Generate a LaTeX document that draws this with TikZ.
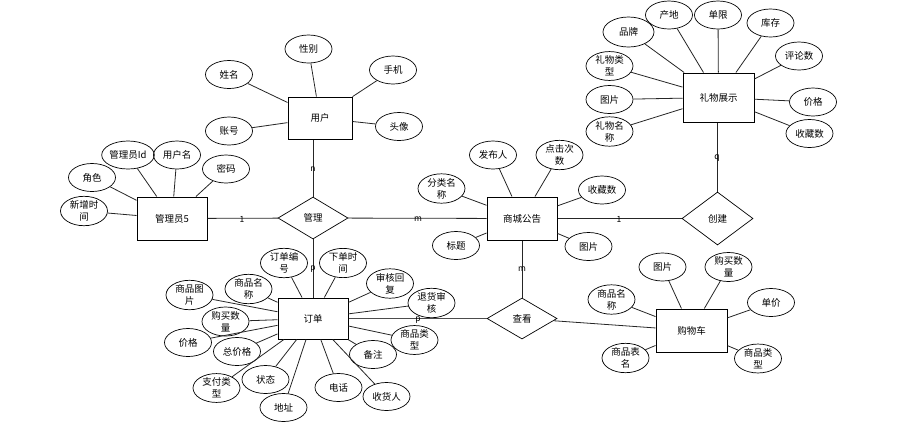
\documentclass[tikz,border=0pt]{standalone}
\usepackage{fontspec}
\setmainfont{Noto Sans CJK SC}
\usetikzlibrary{shapes.geometric}
\begin{document}
\begin{tikzpicture}[x=1pt,y=-1pt,
  every node/.style={font=\fontsize{9.5}{12}\selectfont, text=black},
  ent/.style={draw, rectangle, line width=1pt, minimum width=70pt, minimum height=43pt, inner sep=0pt},
  attr/.style={draw, ellipse, line width=0.7pt, minimum width=47pt, minimum height=28pt, inner sep=0pt, align=center},
  rel/.style={draw, diamond, line width=0.7pt, minimum width=70pt, minimum height=42pt, inner sep=0pt},
  card/.style={font=\fontsize{8.5}{9}\selectfont, inner sep=0pt},
  con/.style={line width=0.8pt, draw=black!85}]
\useasboundingbox (0,0) rectangle (910,424);
% entities
\node[ent, minimum width=64pt, minimum height=42pt] (yh) at (320,118) {用户};
\node[ent] (gly) at (172,218.5) {管理员5};
\node[ent] (gg) at (522,218.5) {商城公告};
\node[ent, minimum width=71pt, minimum height=49pt] (lw) at (718.5,97.5) {礼物展示};
\node[ent, minimum height=41pt] (dd) at (313,318.5) {订单};
\node[ent, minimum width=71pt] (gwc) at (691.5,330.5) {购物车};
% relations
\node[rel] (gl) at (313,218) {管理};
\node[rel, minimum width=71pt, minimum height=53pt] (cj) at (717.5,218.5) {创建};
\node[rel, minimum height=41pt] (ck) at (522,318.5) {查看};
% user attributes
\node[attr] (xb) at (308.5,49) {性别};
\node[attr] (xm) at (229,74.5) {姓名};
\node[attr] (sj) at (393,70) {手机};
\node[attr] (zh) at (229,131) {账号};
\node[attr] (tx) at (399,126.5) {头像};
% admin attributes
\node[attr] (gid) at (128,155) {管理员Id};
\node[attr] (yhm) at (177,155) {用户名};
\node[attr] (mm) at (226,169) {密码};
\node[attr] (js) at (92,177.5) {角色};
\node[attr] (xzsj) at (84,211) {新增时\\间};
% notice attributes
\node[attr] (flmc) at (441.5,188.5) {分类名\\称};
\node[attr] (fbr) at (493,155) {发布人};
\node[attr] (djcs) at (559.5,155) {点击次\\数};
\node[attr] (ggsc) at (602,190) {收藏数};
\node[attr] (bt) at (456,245.5) {标题};
\node[attr] (ggtp) at (588.5,246.5) {图片};
% gift attributes
\node[attr, minimum width=51pt, minimum height=30pt] (pp) at (628.5,32) {品牌};
\node[attr] (cd) at (669,15) {产地};
\node[attr] (dx) at (718,15) {单限};
\node[attr] (kc) at (770.5,23) {库存};
\node[attr] (pls) at (799,56) {评论数};
\node[attr] (lwlx) at (609.5,66) {礼物类\\型};
\node[attr] (lwtp) at (609.5,99.5) {图片};
\node[attr] (lwmc) at (609.5,131.5) {礼物名\\称};
\node[attr] (jg) at (813,102) {价格};
\node[attr] (lwsc) at (809.5,133.5) {收藏数};
% order attributes
\node[attr] (ddbh) at (284,263) {订单编\\号};
\node[attr] (xdsj) at (343,263) {下单时\\间};
\node[attr] (spmc) at (248.5,289) {商品名\\称};
\node[attr] (sptp) at (189.5,295) {商品图\\片};
\node[attr] (shhf) at (390,283.5) {审核回\\复};
\node[attr] (thsh) at (431.5,303) {退货审\\核};
\node[attr] (gmsl) at (225.5,321.5) {购买数\\量};
\node[attr] (ddjg) at (188,342.5) {价格};
\node[attr] (zjg) at (237,351.5) {总价格};
\node[attr] (splx) at (414.5,340) {商品类\\型};
\node[attr] (bz) at (373,354.5) {备注};
\node[attr] (zflx) at (216.5,388) {支付类\\型};
\node[attr] (zt) at (265.5,379.5) {状态};
\node[attr] (dz) at (283.5,407.5) {地址};
\node[attr] (dh) at (338.5,387.5) {电话};
\node[attr] (shr) at (386.5,396.5) {收货人};
% cart attributes
\node[attr] (cttp) at (662.5,267) {图片};
\node[attr] (ctsl) at (728.5,267) {购买数\\量};
\node[attr] (ctdj) at (771,302.5) {单价};
\node[attr] (ctmc) at (611.5,299.5) {商品名\\称};
\node[attr] (ctbm) at (625.5,358) {商品表\\名};
\node[attr] (ctlx) at (758,358.5) {商品类\\型};
% connectors: relations
\draw[con] (gl.north) -- (gl.north |- yh.south);
\draw[con] (gly) -- (gl);
\draw[con] (gl) -- (gg);
\draw[con] (gl) -- (dd);
\draw[con] (cj.north) -- (cj.north |- lw.south);
\draw[con] (cj) -- (gg);
\draw[con] (gg) -- (ck);
\draw[con, line width=1.2pt, draw=black!70] (dd) -- (ck);
\draw[con] (ck) -- (gwc);
% connectors: attributes
\foreach \a in {xb,xm,sj,zh,tx} \draw[con] (\a) -- (yh);
\foreach \a in {gid,yhm,mm,js,xzsj} \draw[con] (\a) -- (gly);
\foreach \a in {flmc,fbr,djcs,ggsc,bt,ggtp} \draw[con] (\a) -- (gg);
\foreach \a in {pp,cd,dx,kc,pls,lwlx,lwtp,lwmc,jg,lwsc} \draw[con] (\a) -- (lw);
\foreach \a in {ddbh,xdsj,spmc,sptp,shhf,thsh,gmsl,ddjg,zjg,splx,bz,zflx,zt,dz,dh,shr} \draw[con] (\a) -- (dd);
\foreach \a in {cttp,ctsl,ctdj,ctmc,ctbm,ctlx} \draw[con] (\a) -- (gwc);
% cardinalities
\node[card] (c1) at (313,169) {n};
\node[card] (c2) at (242,219) {1};
\node[card] (c3) at (418,219) {m};
\node[card] (c4) at (717,158) {q};
\node[card] (c5) at (619,219) {1};
\node[card] (c6) at (522,269) {m};
\node[card] (c7) at (313,269) {p};
\node[card] (c8) at (418,320) {p};
\end{tikzpicture}
\end{document}
